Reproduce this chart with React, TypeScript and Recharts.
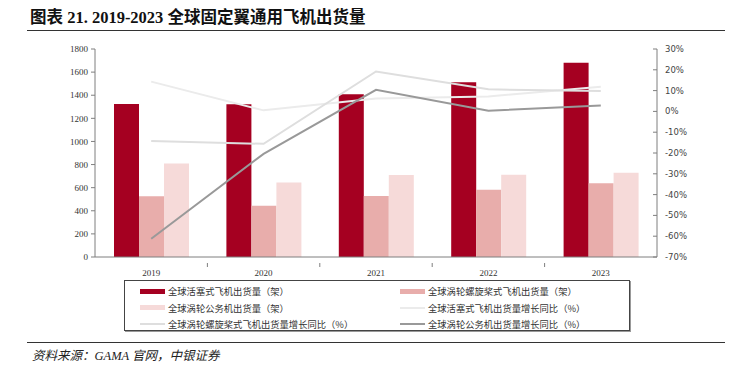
import { ComposedChart, Bar, Line, XAxis, YAxis } from "recharts";

const years = ["2019", "2020", "2021", "2022", "2023"];
const pistonUnits = [1324, 1321, 1409, 1512, 1682];
const turbopropUnits = [525, 443, 527, 582, 638];
const bizjetUnits = [809, 644, 710, 712, 730];
const pistonYoY = [14.3, 0.5, 6.2, 7.2, 11.8];
const turbopropYoY = [-14.2, -15.6, 19.2, 10.6, 9.8];
const bizjetYoY = [-61.2, -20.4, 10.4, 0.3, 2.8];
const leftTicks = [0, 200, 400, 600, 800, 1000, 1200, 1400, 1600, 1800];
const rightTicks = [-70, -60, -50, -40, -30, -20, -10, 0, 10, 20, 30];

const data = years.map((year, i) => ({
  year,
  piston: pistonUnits[i],
  turboprop: turbopropUnits[i],
  bizjet: bizjetUnits[i],
  pistonYoY: pistonYoY[i],
  turbopropYoY: turbopropYoY[i],
  bizjetYoY: bizjetYoY[i],
}));

const legendItems = [
  { name: "全球活塞式飞机出货量（架）", color: "#a50021", type: "bar" },
  { name: "全球涡轮螺旋桨式飞机出货量（架）", color: "#e8adab", type: "bar" },
  { name: "全球涡轮公务机出货量（架）", color: "#f6dad9", type: "bar" },
  { name: "全球活塞式飞机出货量增长同比（%）", color: "#ebebeb", type: "line" },
  { name: "全球涡轮螺旋桨式飞机出货量增长同比（%）", color: "#dedede", type: "line" },
  { name: "全球涡轮公务机出货量增长同比（%）", color: "#999999", type: "line" },
];

const AXIS = "#7f7f7f";
const CJK = '"Noto Sans CJK SC", sans-serif';

const XTick = (props: any) => {
  const { x, y, payload, index } = props;
  const half = payload?.offset || 56.2;
  return (
    <g>
      {index > 0 && <line x1={x - half} x2={x - half} y1={y - 2} y2={y + 2} stroke={AXIS} />}
      <text x={x} y={y + 11} textAnchor="middle" fontSize={9} fill="#333" fontFamily='"Liberation Serif", serif'>
        {payload.value}
      </text>
    </g>
  );
};

const RightTick = (props: any) => {
  const { x, y, payload } = props;
  return (
    <g>
      <line x1={x - 4} x2={x} y1={y} y2={y} stroke={AXIS} />
      <text x={x + 8} y={y + 3} textAnchor="start" fontSize={8.5} fill="#444" fontFamily='"DejaVu Sans", sans-serif'>
        {payload.value}%
      </text>
    </g>
  );
};

export default function App() {
  return (
    <div style={{ position: "absolute", left: 0, top: 0, width: 733, height: 367, background: "#fff" }}>
      <div
        style={{
          position: "absolute",
          left: 30,
          top: 4,
          fontSize: 16.5,
          fontWeight: "bold",
          fontFamily: '"Liberation Serif", "Noto Sans CJK SC", serif',
          color: "#111",
          whiteSpace: "nowrap",
        }}
      >
        图表 21. 2019-2023 全球固定翼通用飞机出货量
      </div>
      <div style={{ position: "absolute", left: 27, top: 30, width: 698, height: 1, background: "#333" }} />

      <ComposedChart
        width={733}
        height={367}
        data={data}
        margin={{ top: 49, right: 26, left: 55, bottom: 90 }}
        barGap={0}
        style={{ position: "absolute", left: 0, top: 0 }}
      >
        <XAxis
          dataKey="year"
          stroke={AXIS}
          tickLine={false}
          height={20}
          tick={<XTick />}
          interval={0}
        />
        <YAxis
          yAxisId="left"
          domain={[0, 1800]}
          ticks={leftTicks}
          width={40}
          stroke={AXIS}
          tickSize={4}
          tickMargin={3}
          interval={0}
          tick={{ fontSize: 9, fill: "#333", fontFamily: '"Liberation Serif", serif' }}
        />
        <YAxis
          yAxisId="right"
          orientation="right"
          domain={[-70, 30]}
          ticks={rightTicks}
          width={50}
          stroke={AXIS}
          tickLine={false}
          tickSize={0}
          tickMargin={0}
          interval={0}
          tick={<RightTick />}
        />
        <Bar yAxisId="left" dataKey="piston" fill={legendItems[0].color} barSize={25} isAnimationActive={false} />
        <Bar yAxisId="left" dataKey="turboprop" fill={legendItems[1].color} barSize={25} isAnimationActive={false} />
        <Bar yAxisId="left" dataKey="bizjet" fill={legendItems[2].color} barSize={25} isAnimationActive={false} />
        <Line yAxisId="right" dataKey="pistonYoY" stroke={legendItems[3].color} strokeWidth={2} dot={false} isAnimationActive={false} />
        <Line yAxisId="right" dataKey="turbopropYoY" stroke={legendItems[4].color} strokeWidth={2} dot={false} isAnimationActive={false} />
        <Line yAxisId="right" dataKey="bizjetYoY" stroke={legendItems[5].color} strokeWidth={2} dot={false} isAnimationActive={false} />
      </ComposedChart>

      <div
        style={{
          position: "absolute",
          left: 124,
          top: 280,
          width: 506,
          height: 51,
          border: "1px solid #444",
          boxShadow: "1px 1px 0 #999",
          boxSizing: "border-box",
          fontFamily: CJK,
          fontSize: 9.3,
          color: "#333",
        }}
      >
        {legendItems.map((item, i) => {
          const col = i % 2;
          const row = Math.floor(i / 2);
          return (
            <div
              key={item.name}
              style={{
                position: "absolute",
                left: col === 0 ? 15 : 275,
                top: 3 + row * 16.5,
                height: 14,
                display: "flex",
                alignItems: "center",
                whiteSpace: "nowrap",
              }}
            >
              <span
                style={{
                  display: "inline-block",
                  width: 25,
                  height: item.type === "bar" ? 5 : 2,
                  background: item.color,
                  marginRight: 3,
                }}
              />
              {item.name}
            </div>
          );
        })}
      </div>

      <div style={{ position: "absolute", left: 27, top: 342, width: 698, height: 1, background: "#333" }} />
      <div
        style={{
          position: "absolute",
          left: 32,
          top: 345,
          fontSize: 12.5,
          fontStyle: "italic",
          fontFamily: '"Liberation Serif", "Noto Sans CJK SC", serif',
          color: "#222",
          whiteSpace: "nowrap",
        }}
      >
        资料来源：GAMA 官网，中银证券
      </div>
    </div>
  );
}
